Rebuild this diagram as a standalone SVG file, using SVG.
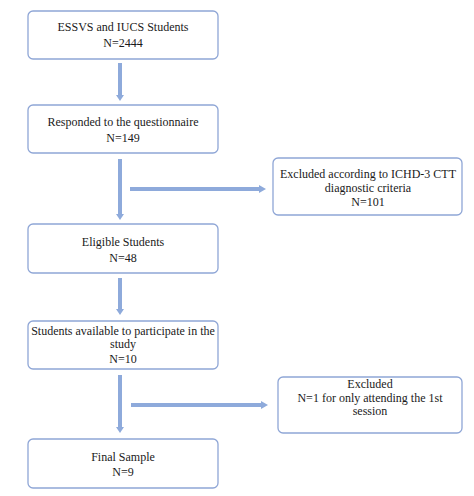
<svg xmlns="http://www.w3.org/2000/svg" width="474" height="496" viewBox="0 0 474 496">
<defs>
<style>
.box{fill:#fff;stroke:#8fa6d6;stroke-width:1.3}
.t{font-family:"Liberation Serif",serif;font-size:12px;fill:#1a1a1a;text-anchor:middle}
.sh{stroke:#8eaadb;stroke-width:4;fill:none}
.hd{fill:#8eaadb}
</style>
</defs>
<rect width="474" height="496" fill="#fff"/>
<g id="connectors">
<line class="sh" x1="120" y1="63" x2="120" y2="95"/><path class="hd" d="M116,95 L124,95 L120,101 Z"/>
<line class="sh" x1="120" y1="159" x2="120" y2="214"/><path class="hd" d="M116,214 L124,214 L120,220 Z"/>
<line class="sh" x1="130" y1="189" x2="259" y2="189"/><path class="hd" d="M259,185 L259,193 L266,189 Z"/>
<line class="sh" x1="120" y1="278" x2="120" y2="309"/><path class="hd" d="M116,309 L124,309 L120,315 Z"/>
<line class="sh" x1="120" y1="375" x2="120" y2="427"/><path class="hd" d="M116,427 L124,427 L120,433 Z"/>
<line class="sh" x1="131" y1="405" x2="261" y2="405"/><path class="hd" d="M261,401 L261,409 L268,405 Z"/>
</g>
<g id="n1"><rect class="box" x="28" y="11" width="190" height="48" rx="5"/>
<text class="t" x="123" y="31">ESSVS and IUCS Students</text><text class="t" x="123" y="47">N=2444</text></g>
<g id="n2"><rect class="box" x="28" y="105" width="190" height="48" rx="5"/>
<text class="t" x="123" y="126">Responded to the questionnaire</text><text class="t" x="123" y="142">N=149</text></g>
<g id="n3"><rect class="box" x="273" y="158" width="189" height="57" rx="5"/>
<text class="t" x="368" y="178">Excluded according to ICHD-3 CTT</text><text class="t" x="368" y="192">diagnostic criteria</text><text class="t" x="368" y="206">N=101</text></g>
<g id="n4"><rect class="box" x="28" y="224" width="190" height="49" rx="5"/>
<text class="t" x="123" y="246">Eligible Students</text><text class="t" x="123" y="262">N=48</text></g>
<g id="n5"><rect class="box" x="28" y="321" width="190" height="48" rx="5"/>
<text class="t" x="123" y="335">Students available to participate in the</text><text class="t" x="123" y="348">study</text><text class="t" x="123" y="363">N=10</text></g>
<g id="n6"><rect class="box" x="278" y="377" width="184" height="56" rx="5"/>
<text class="t" x="370" y="388">Excluded</text><text class="t" x="370" y="402">N=1 for only attending the 1st</text><text class="t" x="370" y="415">session</text></g>
<g id="n7"><rect class="box" x="28" y="439" width="190" height="49" rx="5"/>
<text class="t" x="123" y="461">Final Sample</text><text class="t" x="123" y="476">N=9</text></g>
</svg>
